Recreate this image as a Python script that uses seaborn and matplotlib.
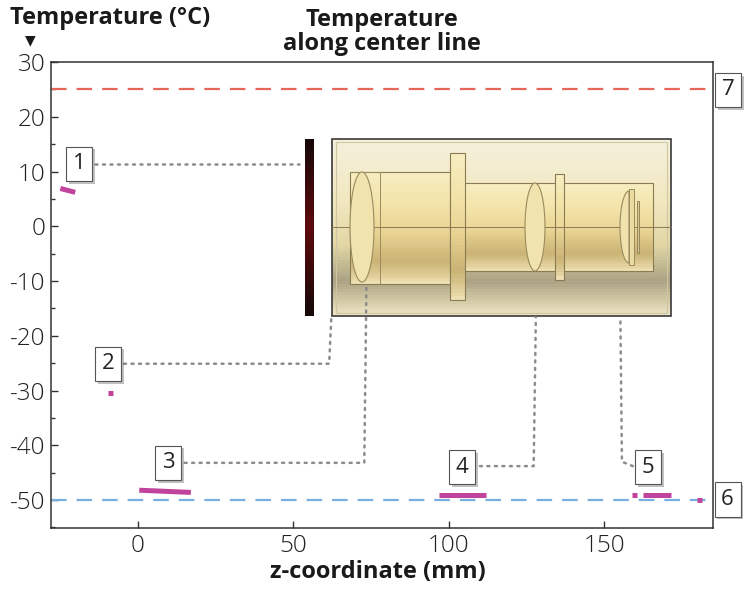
import numpy as np
import pandas as pd
import matplotlib
matplotlib.use("Agg")
import matplotlib.pyplot as plt
import matplotlib.patches as mpatches
import matplotlib.patheffects as pe
from matplotlib.transforms import Affine2D
import seaborn as sns

# ---------------- data ----------------
seg_parts = ["1", "1", "2", "2", "3", "3", "4", "4", "5a", "5a", "5b", "5b", "6", "6"]
seg_x = [-25.0, -20.2, -9.6, -8.2, 0.4, 17.0, 97.0, 112.0, 158.8, 160.5, 162.5, 171.4, 179.9, 181.4]
seg_y = [6.9, 6.2, -30.5, -30.5, -48.2, -48.6, -49.0, -49.0, -49.0, -49.0, -49.0, -49.0, -50.0, -50.0]

ambient_temp = 25      # label 7
cold_temp = -50        # label 6

box_labels = ["1", "2", "3", "4", "5", "6", "7"]
box_x = [-18.9, -9.7, 9.7, 104.3, 164.1, 189.7, 189.9]
box_y = [11.4, -25.1, -43.2, -44.0, -44.0, -49.9, 24.9]

x_ticks = [0, 50, 100, 150]
y_ticks = [-50, -40, -30, -20, -10, 0, 10, 20, 30]
x_lim = (-28, 185)
y_lim = (-55.1, 30)

# leader lines (data coords)
leader_1 = ([-13.8, 51.9], [11.4, 11.4])
leader_2 = ([-4.5, 61.5, 62.2], [-25.1, -25.1, -16.6])
leader_3 = ([15.0, 72.8, 73.5], [-43.2, -43.2, -10.3])
leader_4 = ([110.0, 127.3, 128.0], [-43.8, -43.8, -16.6])
leader_5 = ([159.2, 155.7, 155.2], [-43.8, -43.0, -16.6])

# ---------------- style ----------------
sns.set_theme(style="white")
plt.rcParams["font.family"] = ["Open Sans", "DejaVu Sans"]
plt.rcParams["axes.unicode_minus"] = False

W, H = 755, 590
fig = plt.figure(figsize=(W / 100, H / 100), dpi=100)
ax_l, ax_r, ax_t, ax_b = 51, 713, 62, 528
ax = fig.add_axes([ax_l / W, 1 - ax_b / H, (ax_r - ax_l) / W, (ax_b - ax_t) / H])

df = pd.DataFrame({"seg": seg_parts, "x": seg_x, "y": seg_y})
sns.lineplot(data=df, x="x", y="y", units="seg", estimator=None, sort=False,
             color="#c2439b", lw=3.6, ax=ax, zorder=6, solid_capstyle="butt")

ax.axhline(ambient_temp, color="#e8675c", lw=1.6, dashes=(7, 4.5), zorder=2)
ax.axhline(cold_temp, color="#79aee0", lw=1.6, dashes=(7, 4.5), zorder=2)

dot_kw = dict(color="#8c8c8c", lw=1.8, linestyle=(0, (0.8, 2.2)), zorder=8, solid_capstyle="round",
              dash_capstyle="round")
for lx, ly in [leader_1, leader_2, leader_3, leader_4, leader_5]:
    ax.plot(lx, ly, **dot_kw)

ax.set_xlim(*x_lim)
ax.set_ylim(*y_lim)
ax.set_xticks(x_ticks)
ax.set_yticks(y_ticks)
ax.set_yticks(np.arange(-55, 30, 5), minor=True)
ax.tick_params(axis="both", which="major", direction="in", length=5, width=1, color="#333333",
               labelsize=17.5, labelcolor="#222222", pad=4, left=True, bottom=True)
ax.tick_params(axis="y", which="minor", direction="in", length=3, width=1, color="#333333", left=True)
for lbl in ax.get_xticklabels() + ax.get_yticklabels():
    lbl.set_fontweight("light")
for s in ax.spines.values():
    s.set_color("#333333")
    s.set_linewidth(1.1)
ax.set_xlabel("")
ax.set_ylabel("")

# ---------------- inset drawing (pixel coords relative to its top-left) ----------------
ins_x0, ins_y0 = 332, 139
aw, ah = ax_r - ax_l, ax_b - ax_t
tr = Affine2D().scale(1 / aw, -1 / ah).translate((ins_x0 - ax_l) / aw, (ax_b - ins_y0) / ah) + ax.transAxes


def lerp_colors(stops, t):
    ts = [s[0] for s in stops]
    cs = [np.array(matplotlib.colors.to_rgb(s[1])) for s in stops]
    for i in range(len(ts) - 1):
        if ts[i] <= t <= ts[i + 1]:
            f = (t - ts[i]) / (ts[i + 1] - ts[i]) if ts[i + 1] > ts[i] else 0
            return cs[i] * (1 - f) + cs[i + 1] * f
    return cs[-1]


def grad_rect(x0, y0, w, h, stops, z, n=40, ec="#8a7b55", lw=0.8):
    for i in range(n):
        t = (i + 0.5) / n
        ax.add_patch(mpatches.Rectangle((x0, y0 + h * i / n), w, h / n + 0.3, transform=tr,
                                        fc=lerp_colors(stops, t), ec="none", zorder=z))
    ax.add_patch(mpatches.Rectangle((x0, y0), w, h, transform=tr, fc="none", ec=ec, lw=lw, zorder=z + 0.01))


bg_stops = [(0, "#f4f0dc"), (0.35, "#f1e7bf"), (0.6, "#e2d6a4"), (0.8, "#aaa283"), (0.93, "#d8cfab"), (1, "#efe8cc")]
barrel_stops = [(0, "#f6edc0"), (0.3, "#f2e3a8"), (0.55, "#e8d393"), (0.8, "#c9b273"), (0.95, "#e4d4a0"), (1, "#f0e4b8")]

grad_rect(0, 0, 339, 177, bg_stops, 3, n=60, ec="#3a3a3a", lw=1.2)
ax.add_patch(mpatches.Rectangle((4, 3), 331, 171, transform=tr, fc="none", ec="#cfc7a4", lw=0.8, zorder=3.05))
grad_rect(18, 33, 100, 112, barrel_stops, 3.2)
grad_rect(120, 44, 201, 88, barrel_stops, 3.2)
grad_rect(118, 14, 15, 147, barrel_stops, 3.4)
grad_rect(223, 35, 9, 106, barrel_stops, 3.4)
ax.plot([18, 48, 48], [33, 33, 145], transform=tr, color="#9a8a5e", lw=0.7, zorder=3.5)
ax.plot([0, 339], [88, 88], transform=tr, color="#8a7b55", lw=0.7, zorder=3.6)
for cx, w, h in [(30, 24, 110), (203, 20, 88)]:
    ax.add_patch(mpatches.Ellipse((cx, 88), w, h, transform=tr, fc="#f0e3ae", ec="#9a8a5e", lw=0.8, zorder=3.7))
# plano-convex third lens: half ellipse
ax.add_patch(mpatches.Wedge((297, 88), 1, 90, 270, transform=Affine2D().scale(9, 36).translate(297 - 297 * 9, 88 - 88 * 36) + tr,
                            fc="#efe2ad", ec="#9a8a5e", lw=0.8, zorder=3.7))
ax.add_patch(mpatches.Rectangle((297, 50), 5, 76, transform=tr, fc="#eadca0", ec="#9a8a5e", lw=0.7, zorder=3.7))
ax.add_patch(mpatches.Rectangle((305, 62), 2, 52, transform=tr, fc="#d8c78a", ec="#8a7b55", lw=0.6, zorder=3.7))

# temperature colour strip
cb_stops = [(0, "#160808"), (0.5, "#5e0a0c"), (1, "#140808")]
for i in range(60):
    t = (i + 0.5) / 60
    ax.add_patch(mpatches.Rectangle((-27, 177 * i / 60), 9, 177 / 60 + 0.3, transform=tr,
                                    fc=lerp_colors(cb_stops, t), ec="none", zorder=3))

# ---------------- label boxes ----------------
for lab, bx, by in zip(box_labels, box_x, box_y):
    t = ax.text(bx, by, lab, ha="center", va="center", fontsize=16, color="#222222", zorder=9,
                clip_on=False,
                bbox=dict(boxstyle="square,pad=0.3", fc="white", ec="#555555", lw=0.8))
    t.get_bbox_patch().set_path_effects([pe.SimplePatchShadow(offset=(2, -2), alpha=0.35), pe.Normal()])

# ---------------- titles ----------------
title_kw = dict(fontsize=17, fontweight="bold", color="#1a1a1a")
fig.text(10 / W, 1 - 18 / H, "Temperature (°C)", ha="left", va="center", **title_kw)
fig.text(30 / W, 1 - 40 / H, "▼", fontsize=10, ha="center", va="center", color="#1a1a1a",
         family=["DejaVu Sans"])
fig.text(382 / W, 1 - 32 / H, "Temperature\nalong center line", ha="center", va="center",
         linespacing=1.05, **title_kw)
fig.text(378 / W, 1 - 572 / H, "z-coordinate (mm)", ha="center", va="center", **title_kw)

fig.savefig("out.png", dpi=100)
